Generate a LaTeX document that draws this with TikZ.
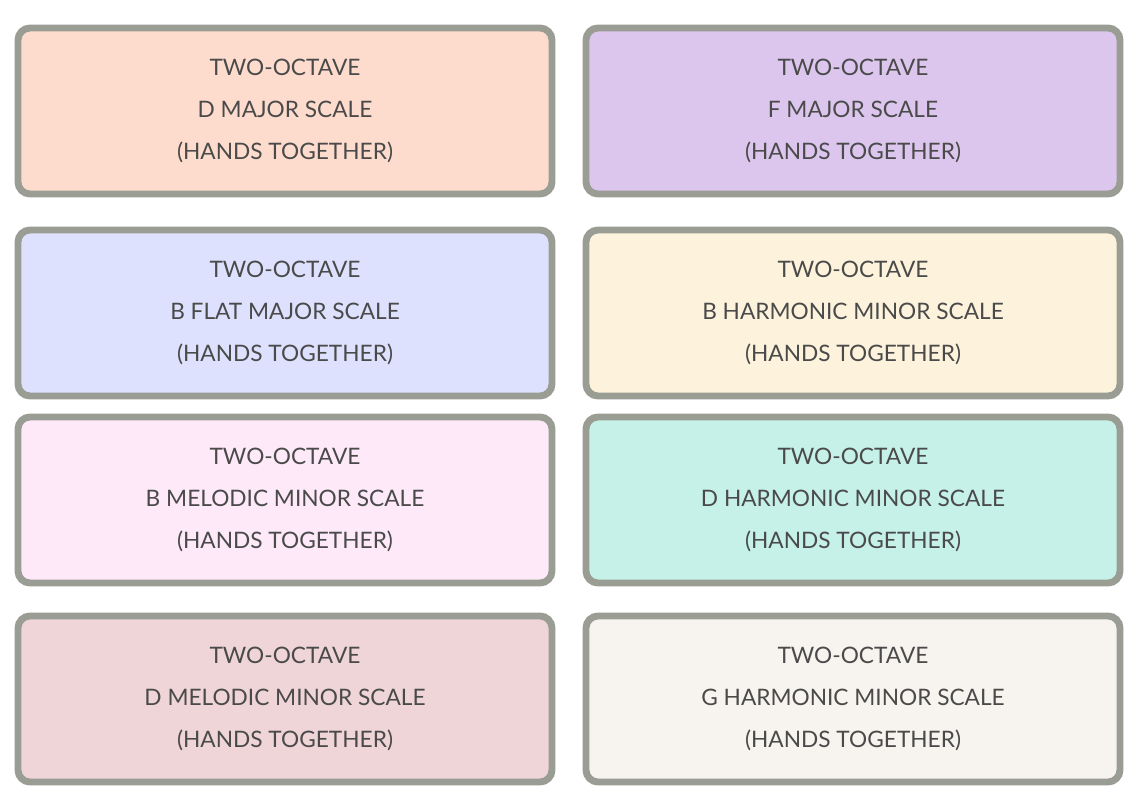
\documentclass[tikz,border=0pt]{standalone}
\usepackage{fontspec}
\setmainfont{Lato}
\definecolor{bd}{HTML}{9A9D93}
\definecolor{tx}{HTML}{4A4A4A}
\begin{document}
\begin{tikzpicture}[x=0.75pt,y=-0.75pt,
 card/.style={draw=bd,line width=5.2pt,rounded corners=9pt,minimum width=534*0.75pt,minimum height=166*0.75pt,
 align=center,text=tx,font=\fontsize{17pt}{31.5pt}\selectfont,inner sep=0pt}]
\useasboundingbox (0,0) rectangle (1140,806);
\node[card,fill={rgb,255:red,253;green,220;blue,205}] (a) at (285,111) {TWO-OCTAVE\\D MAJOR SCALE\\(HANDS TOGETHER)};
\node[card,fill={rgb,255:red,220;green,198;blue,238}] (b) at (853,111) {TWO-OCTAVE\\F MAJOR SCALE\\(HANDS TOGETHER)};
\node[card,fill={rgb,255:red,221;green,225;blue,253}] (c) at (285,313) {TWO-OCTAVE\\B FLAT MAJOR SCALE\\(HANDS TOGETHER)};
\node[card,fill={rgb,255:red,253;green,243;blue,220}] (d) at (853,313) {TWO-OCTAVE\\B HARMONIC MINOR SCALE\\(HANDS TOGETHER)};
\node[card,fill={rgb,255:red,253;green,233;blue,248}] (e) at (285,500) {TWO-OCTAVE\\B MELODIC MINOR SCALE\\(HANDS TOGETHER)};
\node[card,fill={rgb,255:red,198;green,241;blue,232}] (f) at (853,500) {TWO-OCTAVE\\D HARMONIC MINOR SCALE\\(HANDS TOGETHER)};
\node[card,fill={rgb,255:red,239;green,212;blue,216}] (g) at (285,699) {TWO-OCTAVE\\D MELODIC MINOR SCALE\\(HANDS TOGETHER)};
\node[card,fill={rgb,255:red,247;green,244;blue,239}] (h) at (853,699) {TWO-OCTAVE\\G HARMONIC MINOR SCALE\\(HANDS TOGETHER)};
\end{tikzpicture}
\end{document}
